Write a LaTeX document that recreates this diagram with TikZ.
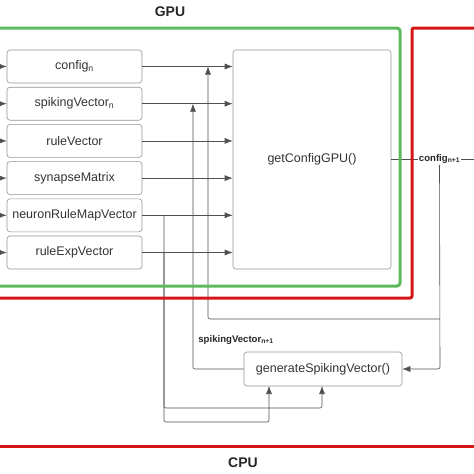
\documentclass[tikz,border=0pt]{standalone}
\usepackage{fontspec}
\setmainfont{Liberation Sans}
\usetikzlibrary{arrows.meta,positioning}
\definecolor{gpugreen}{RGB}{92,186,92}
\definecolor{cpured}{RGB}{212,22,22}
\definecolor{wire}{RGB}{80,80,80}
\tikzset{box/.style={draw=gray!85,rounded corners=3pt,text=black!80,
    font=\fontsize{12.5}{14}\selectfont},
  arr/.style={-{Latex[length=8pt,width=6pt]},wire},
  lbl/.style={font=\bfseries\fontsize{9.6}{11}\selectfont,text=black!85}}

\begin{document}
\begin{tikzpicture}[x=1pt,y=-1pt,semithick]
\useasboundingbox (0,0) rectangle (474,474);
\node[box,minimum width=158pt,minimum height=219pt](G)at(312,159.5){getConfigGPU()};
\node[box,minimum width=158pt,minimum height=34pt](H)at(323,369){generateSpikingVector()};
\foreach \n/\t [count=\i] in {A/config\textsubscript{n},B/spikingVector\textsubscript{n},
  C/ruleVector,D/synapseMatrix,E/neuronRuleMapVector,F/ruleExpVector}{
  \pgfmathsetmacro\y{66.5+37.2*(\i-1)}
  \node[box,minimum width=135pt,minimum height=33pt](\n)at(74.5,\y){\t};
  \draw[arr](-20,\y)--(\n.west);
  \draw[arr](\n.east)--(G.west|-\n.east);
}
\coordinate(P)at(208,319);
\coordinate(Q)at(193,369);
\coordinate(R)at(164,0);
% config n+1 out of the GPU
\node[lbl,fill=white,inner sep=1pt](K)at(439.5,159){config\textsubscript{n+1}};
\draw[wire](G.east|-K.west)--(K.west)(K.east)--(480,159);
\draw[arr,rounded corners=2pt](K.south)--(440,369)--(H.east);
\draw[arr,rounded corners=2pt](440,319)--(P)--(P|-A.east);
% spikingVector n+1 back up
\node[lbl](L)at(236,340){spikingVector\textsubscript{n+1}};
\draw[arr,rounded corners=2pt](H.west)--(Q)--(Q|-B.east);
% rule maps down to generateSpikingVector
\draw[arr,rounded corners=2pt](R|-E.east)--(164,408)--(322,408)--(322,386);
\draw[arr,rounded corners=2pt](R|-F.east)--(164,422)--(269,422)--(269,386);
% GPU and CPU frames
\draw[gpugreen,line width=3pt,rounded corners=3pt](-5,28)--(400,28)--(400,286)--(-5,286);
\draw[cpured,line width=3pt,rounded corners=2pt](480,28)--(412,28)--(412,298)--(-5,298);
\draw[cpured,line width=3pt](-5,446)--(480,446);
\node[font=\bfseries\fontsize{14}{16}\selectfont,text=black!85](GPU)at(170,12){GPU};
\node[font=\bfseries\fontsize{14}{16}\selectfont,text=black!85](CPU)at(243,463){CPU};
\end{tikzpicture}
\end{document}
